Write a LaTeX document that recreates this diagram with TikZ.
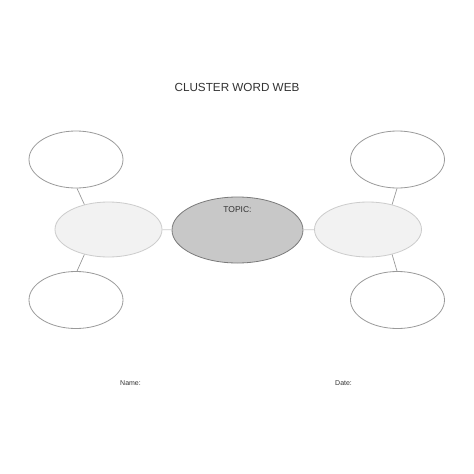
\documentclass[tikz,border=0pt]{standalone}
\usepackage{fontspec}
\setmainfont{Liberation Sans}
\usetikzlibrary{shapes.geometric}
\definecolor{outerline}{HTML}{9A9A9A}
\definecolor{midline}{HTML}{CCCCCC}
\definecolor{midfill}{HTML}{F2F2F2}
\definecolor{topicfill}{HTML}{C8C8C8}
\definecolor{topicline}{HTML}{7A7A7A}
\definecolor{txt}{HTML}{333333}
\tikzset{
  outerell/.style={ellipse, draw=outerline, fill=white, line width=0.8pt, inner sep=0pt, minimum width=94pt, minimum height=57pt},
  midell/.style={ellipse, draw=midline, fill=midfill, line width=0.8pt, inner sep=0pt, minimum width=107pt, minimum height=55pt},
  topicell/.style={ellipse, draw=topicline, fill=topicfill, line width=0.8pt, inner sep=0pt, minimum width=131pt, minimum height=66pt},
  conn/.style={draw=outerline, line width=0.7pt},
  lbl/.style={inner sep=0pt, text=txt},
}
\begin{document}
\begin{tikzpicture}[x=1pt,y=-1pt]
\useasboundingbox[fill=white] (0,0) rectangle (474,474);
\node[lbl, font=\fontsize{11.7}{14}\selectfont] (title) at (237,87) {CLUSTER WORD WEB};
\node[outerell] (tl) at (76,159.5) {};
\node[outerell] (bl) at (76,300) {};
\node[outerell] (tr) at (397.5,159.5) {};
\node[outerell] (br) at (397.5,300) {};
\node[midell] (ml) at (108.5,229.5) {};
\node[midell] (mr) at (368,229.5) {};
\node[topicell] (c) at (237.5,230) {};
\node[lbl, font=\fontsize{8.5}{10}\selectfont] (topic) at (237.5,210) {TOPIC:};
\draw[conn] (tl.-88) -- (ml.134);
\draw[conn] (bl.88) -- (ml.-134);
\draw[conn] (tr.-91) -- (mr.46);
\draw[conn] (br.91) -- (mr.-46);
\draw[conn, draw=midline] (ml) -- (c);
\draw[conn, draw=midline] (c) -- (mr);
\node[lbl, font=\fontsize{7}{8}\selectfont, anchor=west] (name) at (120,383) {Name:};
\node[lbl, font=\fontsize{7}{8}\selectfont, anchor=west] (date) at (335,383) {Date:};
\end{tikzpicture}
\end{document}
